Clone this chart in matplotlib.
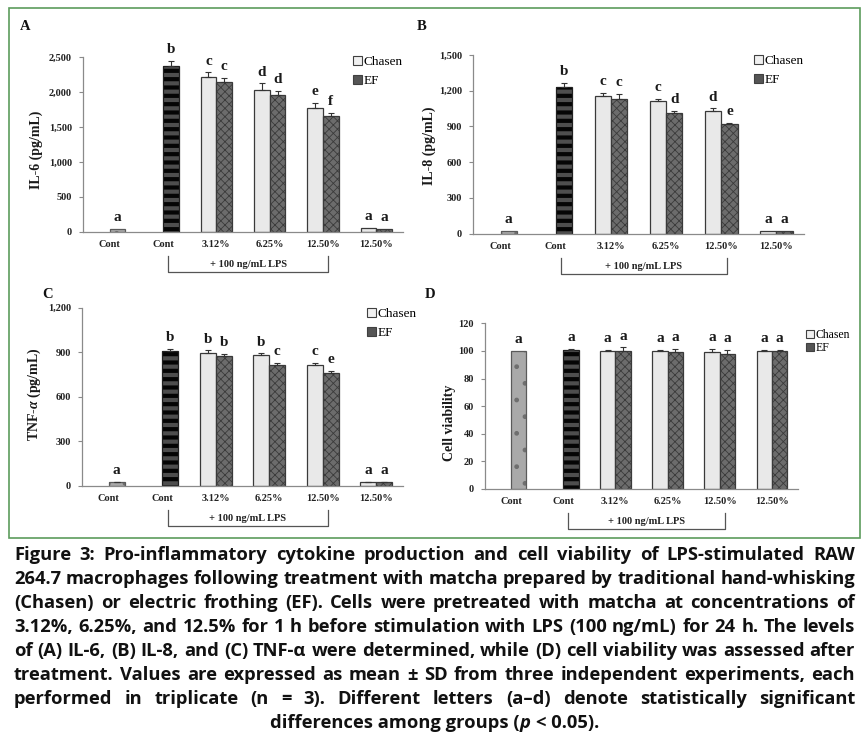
import numpy as np
import matplotlib
matplotlib.use("Agg")
import matplotlib.pyplot as plt
from matplotlib.patches import Rectangle, Patch
from matplotlib import font_manager as fm

# ---------------- data ----------------
categories = ["Cont", "Cont", "3.12%", "6.25%", "12.50%", "12.50%"]
series_names = ["Chasen", "EF"]
lps_label = "+ 100 ng/mL LPS"

# (A) IL-6
il6_cont = [45, 2380]
il6_cont_sd = [0, 70]
il6_chasen = [2223, 2036, 1773, 48]
il6_chasen_sd = [60, 90, 72, 0]
il6_ef = [2146, 1965, 1659, 43]
il6_ef_sd = [53, 52, 48, 0]
il6_let_cont = ["a", "b"]
il6_let_chasen = ["c", "d", "e", "a"]
il6_let_ef = ["c", "d", "f", "a"]

# (B) IL-8
il8_cont = [22, 1231]
il8_cont_sd = [0, 31]
il8_chasen = [1156, 1117, 1030, 20]
il8_chasen_sd = [28, 16, 22, 0]
il8_ef = [1131, 1013, 921, 22]
il8_ef_sd = [44, 14, 11, 0]
il8_let_cont = ["a", "b"]
il8_let_chasen = ["c", "c", "d", "a"]
il8_let_ef = ["c", "d", "e", "a"]

# (C) TNF-alpha
tnf_cont = [25, 910]
tnf_cont_sd = [3, 11]
tnf_chasen = [894, 883, 813, 25]
tnf_chasen_sd = [18, 9, 15, 3]
tnf_ef = [876, 816, 757, 22]
tnf_ef_sd = [14, 9, 14, 2]
tnf_let_cont = ["a", "b"]
tnf_let_chasen = ["b", "b", "c", "a"]
tnf_let_ef = ["b", "c", "e", "a"]

# (D) cell viability
via_cont = [100, 100.7]
via_cont_sd = [0, 0.8]
via_chasen = [100.2, 100, 99.2, 99.7]
via_chasen_sd = [0.3, 0.8, 2.5, 1.0]
via_ef = [100, 99.2, 98, 99.7]
via_ef_sd = [2.5, 2.4, 3.0, 1.0]
via_let_cont = ["a", "a"]
via_let_chasen = ["a", "a", "a", "a"]
via_let_ef = ["a", "a", "a", "a"]

caption_lines = [
    "Figure 3: Pro-inflammatory cytokine production and cell viability of LPS-stimulated RAW",
    "264.7 macrophages following treatment with matcha prepared by traditional hand-whisking",
    "(Chasen) or electric frothing (EF). Cells were pretreated with matcha at concentrations of",
    "3.12%, 6.25%, and 12.5% for 1 h before stimulation with LPS (100 ng/mL) for 24 h. The levels",
    "of (A) IL-6, (B) IL-8, and (C) TNF-\u03b1 were determined, while (D) cell viability was assessed after",
    "treatment. Values are expressed as mean \u00b1 SD from three independent experiments, each",
    "performed in triplicate (n = 3). Different letters (a\u2013d) denote statistically significant",
]
caption_last = ["differences among groups (", "p", "< 0.05)."]

# ---------------- style ----------------
W, H = 868, 742
SERIF = ["Liberation Serif", "DejaVu Serif"]
plt.rcParams["font.family"] = SERIF
plt.rcParams["mathtext.fontset"] = "custom"
plt.rcParams["mathtext.it"] = "Liberation Serif:italic:bold"
plt.rcParams["mathtext.rm"] = "Liberation Serif:bold"
plt.rcParams["hatch.linewidth"] = 0.5

AXC = "#8a8a8a"
EDGE = "#3a3a3a"
BW = 0.295

fig = plt.figure(figsize=(W / 100, H / 100), dpi=100)


def add_ax(box):
    x0, y0, x1, y1 = box
    return fig.add_axes([x0 / W, 1 - y1 / H, (x1 - x0) / W, (y1 - y0) / H])


def hatch_lw(bars, lw):
    for p in bars:
        if hasattr(p, "set_hatch_linewidth"):
            p.set_hatch_linewidth(lw)


def draw_panel(ax, box, cont, cont_sd, chasen, chasen_sd, ef, ef_sd,
               let_cont, let_chasen, let_ef, ymax, ystep):
    xc = np.arange(2) + BW / 2
    xs = np.arange(2, 6)
    # control (unstimulated) bar: dotted grey
    b = ax.bar(xc[0], cont[0], BW, color="#a9a9a9", hatch=".", edgecolor="#6f6f6f",
               lw=0, zorder=2)
    hatch_lw(b, 1.0)
    ax.bar(xc[0], cont[0], BW, fill=False, edgecolor="#5a5a5a", lw=0.9, zorder=2.1)
    # LPS control: black/grey stripes
    b = ax.bar(xc[1], cont[1], BW, color="#4e4e4e", hatch="--", edgecolor="#050505",
               lw=0, zorder=2)
    hatch_lw(b, 3.0)
    ax.bar(xc[1], cont[1], BW, fill=False, edgecolor="#202020", lw=0.9, zorder=2.1)
    # Chasen
    ax.bar(xs - BW / 2, chasen, BW, color="#e9e9e9", edgecolor=EDGE, lw=0.9, zorder=2)
    # EF
    b = ax.bar(xs + BW / 2, ef, BW, color="#6c6c6c", hatch="xxxx", edgecolor="#3b3b3b",
               lw=0, zorder=2)
    hatch_lw(b, 0.6)
    ax.bar(xs + BW / 2, ef, BW, fill=False, edgecolor=EDGE, lw=0.9, zorder=2.1)

    xall = np.concatenate([xc, xs - BW / 2, xs + BW / 2])
    yall = np.concatenate([cont, chasen, ef]).astype(float)
    sall = np.concatenate([cont_sd, chasen_sd, ef_sd]).astype(float)
    lall = list(let_cont) + list(let_chasen) + list(let_ef)
    m = sall > 0
    ax.errorbar(xall[m], yall[m], yerr=[np.zeros(m.sum()), sall[m]], fmt="none",
                ecolor="#333333", elinewidth=0.8, capsize=2.2, capthick=0.8, zorder=3)
    for x, y, s, l in zip(xall, yall, sall, lall):
        ax.annotate(l, (x, y + s), xytext=(0, 3.5), textcoords="offset points",
                    ha="center", va="bottom", fontsize=11, fontweight="bold",
                    color="#1a1a1a")

    ax.set_xlim(-0.5, 5.5)
    ax.set_ylim(0, ymax)
    ax.set_yticks(np.arange(0, ymax + 1, ystep))
    ax.set_yticklabels([f"{v:,.0f}" for v in np.arange(0, ymax + 1, ystep)])
    ax.set_xticks(np.arange(6))
    ax.set_xticklabels(categories)
    for sp in ("top", "right"):
        ax.spines[sp].set_visible(False)
    for sp in ("left", "bottom"):
        ax.spines[sp].set_color(AXC)
        ax.spines[sp].set_linewidth(0.9)
    ax.set_facecolor("none")
    ax.tick_params(axis="y", direction="out", length=3, width=0.8, color=AXC,
                   labelsize=7.5, pad=5, labelcolor="#222222")
    ax.tick_params(axis="x", length=0, labelsize=7.5, pad=6, labelcolor="#222222")
    for t in ax.get_xticklabels() + ax.get_yticklabels():
        t.set_fontweight("bold")

    # LPS bracket
    hpx = box[3] - box[1]
    tr = ax.get_xaxis_transform()
    yt, yb, ytx = -24 / hpx, -40 / hpx, -32.5 / hpx
    x0, x1 = 1.1, 4.1
    ax.plot([x0, x0, x1, x1], [yt, yb, yb, yt], transform=tr, clip_on=False,
            color="#555555", lw=0.9)
    ax.text((x0 + x1) / 2, ytx, lps_label, transform=tr, ha="center", va="center",
            fontsize=7.5, fontweight="bold", color="#222222")


def set_ylabel_px(ax, box, text, xpx, ypx):
    ax.set_ylabel(text, fontsize=10, fontweight="bold", color="#1a1a1a")
    ax.yaxis.set_label_coords((xpx - box[0]) / (box[2] - box[0]),
                              (box[3] - ypx) / (box[3] - box[1]))


def add_legend(ax, lx, ly, size, spacing):
    handles = [Patch(facecolor="#f0f0f0", edgecolor="#404040", lw=0.8),
               Patch(facecolor="#555555", edgecolor="#404040", lw=0.8)]
    ax.legend(handles, series_names, loc="upper left",
              bbox_to_anchor=(lx / W, 1 - ly / H), bbox_transform=fig.transFigure,
              frameon=False, borderpad=0, borderaxespad=0, handlelength=0.7,
              handleheight=0.7, handletextpad=0.12, labelspacing=spacing,
              prop=dict(family=SERIF, size=size))


boxA = (83, 57.3, 403, 231.7)
boxB = (473, 55, 804, 233.7)
boxC = (82, 307.7, 403, 485.7)
boxD = (485, 323.3, 798, 489)

axA = add_ax(boxA)
draw_panel(axA, boxA, il6_cont, il6_cont_sd, il6_chasen, il6_chasen_sd, il6_ef, il6_ef_sd,
           il6_let_cont, il6_let_chasen, il6_let_ef, 2500, 500)
set_ylabel_px(axA, boxA, "IL-6 (pg/mL)", 43, 150)
add_legend(axA, 353, 56, 9.5, 0.5)

axB = add_ax(boxB)
draw_panel(axB, boxB, il8_cont, il8_cont_sd, il8_chasen, il8_chasen_sd, il8_ef, il8_ef_sd,
           il8_let_cont, il8_let_chasen, il8_let_ef, 1500, 300)
set_ylabel_px(axB, boxB, "IL-8 (pg/mL)", 436, 146)
add_legend(axB, 754, 55, 9.5, 0.5)

axC = add_ax(boxC)
draw_panel(axC, boxC, tnf_cont, tnf_cont_sd, tnf_chasen, tnf_chasen_sd, tnf_ef, tnf_ef_sd,
           tnf_let_cont, tnf_let_chasen, tnf_let_ef, 1200, 300)
set_ylabel_px(axC, boxC, r"TNF-$\mathit{\alpha}$ (pg/mL)", 43, 394)
add_legend(axC, 367, 308, 9.5, 0.5)

axD = add_ax(boxD)
draw_panel(axD, boxD, via_cont, via_cont_sd, via_chasen, via_chasen_sd, via_ef, via_ef_sd,
           via_let_cont, via_let_chasen, via_let_ef, 120, 20)
set_ylabel_px(axD, boxD, "Cell viability", 456, 423)
add_legend(axD, 806, 329, 8.5, 0.1)

# panel letters
for lab, (px, py) in zip("ABCD", [(25, 27), (421.5, 27), (47.5, 295), (430, 295)]):
    fig.text(px / W, 1 - py / H, lab, fontsize=10.5, fontweight="bold", ha="center",
             va="center", color="#111111")

# green frame
fig.add_artist(Rectangle((9 / W, 1 - 538 / H), (860 - 9) / W, (538 - 8) / H,
                         transform=fig.transFigure, fill=False, edgecolor="#5c9c5c",
                         lw=1.2))

# ---------------- caption (justified) ----------------
def pick_font(cands):
    for c in cands:
        try:
            fm.findfont(fm.FontProperties(family=c, weight="bold"),
                        fallback_to_default=False)
            return c
        except Exception:
            continue
    return "DejaVu Sans"


CAP = [pick_font(["Open Sans", "Noto Sans", "Roboto"]), "DejaVu Sans"]
renderer = fig.canvas.get_renderer()


def tw(s, size, style="normal"):
    t = fig.text(0, 0, s, fontsize=size, fontweight="bold", family=CAP, style=style)
    w = t.get_window_extent(renderer).width
    t.remove()
    return w


XL, XR = 14, 855
avail = XR - XL
size = 11.0
for _ in range(3):
    sp = tw("a a", size) - tw("aa", size)
    worst = 0
    for line in caption_lines:
        words = line.split(" ")
        nat = sum(tw(w_, size) for w_ in words) + sp * (len(words) - 1)
        worst = max(worst, nat)
    if abs(worst - avail) > 1:
        size *= avail / worst
    else:
        break
if worst > avail:
    size *= avail / worst * 0.998

base0, dy = 560, 24
for i, line in enumerate(caption_lines):
    words = line.split(" ")
    ws = [tw(w_, size) for w_ in words]
    gap = (avail - sum(ws)) / (len(words) - 1)
    x = XL
    yb = 1 - (base0 + i * dy) / H
    for w_, wd in zip(words, ws):
        fig.text(x / W, yb, w_, fontsize=size, fontweight="bold", family=CAP,
                 va="baseline", ha="left", color="#111111")
        x += wd + gap

sp = tw("a a", size) - tw("aa", size)
styles = ["normal", "italic", "normal"]
segw = [tw(s, size, st) for s, st in zip(caption_last, styles)]
total = sum(segw) + sp
x = 434 - total / 2
yb = 1 - (base0 + 7 * dy) / H
for k, (s, st, wd) in enumerate(zip(caption_last, styles, segw)):
    fig.text(x / W, yb, s, fontsize=size, fontweight="bold", family=CAP, style=st,
             va="baseline", ha="left", color="#111111")
    x += wd + (sp if k == 1 else 0.5)

fig.savefig("out.png", dpi=100, facecolor="white")
